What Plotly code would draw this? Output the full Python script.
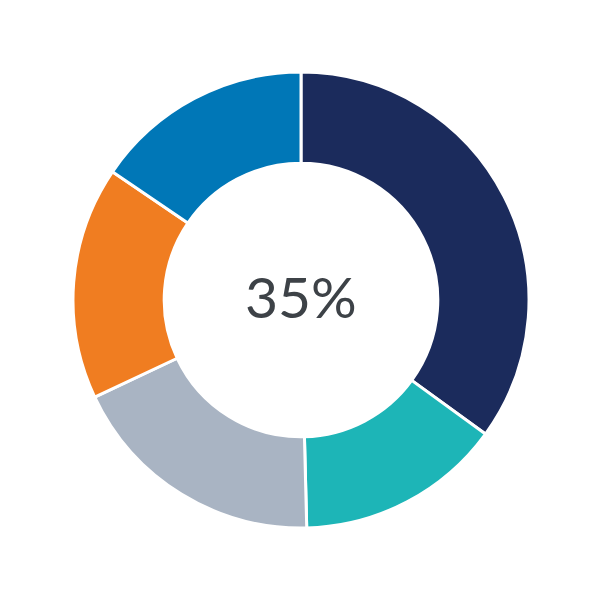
import plotly.graph_objects as go

labels = ["A", "B", "C", "D", "E"]
values = [35, 14.6, 18.4, 16.5, 15.5]
colors = ["#1b2b5c", "#1db5b7", "#a9b4c3", "#f07d21", "#0077b7"]
center_text = "35%"

fig = go.Figure(go.Pie(
    labels=labels,
    values=values,
    hole=0.6,
    sort=False,
    direction="clockwise",
    rotation=0,
    marker=dict(colors=colors, line=dict(color="white", width=3)),
    textinfo="none",
    hoverinfo="label+percent",
))

# page body has an 8px margin, so shift the plot up/left to centre it
fig.update_layout(
    width=600, height=600,
    showlegend=False,
    paper_bgcolor="white",
    margin=dict(l=65, r=79, t=64, b=80),
    annotations=[dict(text=center_text, x=0.5, y=0.5, xref="paper", yref="paper", yshift=4,
                      showarrow=False, font=dict(family="Lato", size=57, color="#3d4247"))],
)

fig.write_html("out.html")
